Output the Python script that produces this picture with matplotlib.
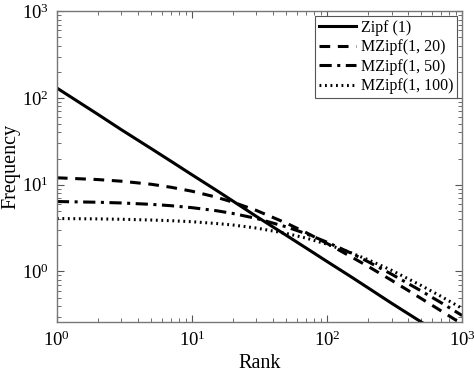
import matplotlib
matplotlib.use("Agg")
import matplotlib.pyplot as plt

plt.rcParams['font.family'] = ['Liberation Serif', 'DejaVu Serif']
plt.rcParams['mathtext.fontset'] = 'custom'
plt.rcParams['mathtext.rm'] = 'Liberation Serif'
plt.rcParams['mathtext.it'] = 'Liberation Serif'

# values
rank = [1, 2, 3, 5, 7, 10, 15, 20, 30, 50, 70, 100, 150, 200, 300, 500, 700, 1000]
zipf_1 = [130, 65, 43, 26, 18.6, 13, 8.7, 6.5, 4.3, 2.6, 1.86, 1.3, 0.87, 0.65, 0.43, 0.26, 0.19, 0.13]
mzipf_20 = [12.0, 11.45, 10.96, 10.1, 9.33, 8.4, 7.2, 6.3, 5.04, 3.6, 2.8, 2.1, 1.48, 1.15, 0.79, 0.485, 0.35, 0.247]
mzipf_50 = [6.39, 6.27, 6.15, 5.93, 5.72, 5.43, 5.02, 4.66, 4.08, 3.26, 2.72, 2.17, 1.63, 1.30, 0.93, 0.593, 0.435, 0.31]
mzipf_100 = [4.07, 4.03, 3.99, 3.91, 3.84, 3.74, 3.57, 3.43, 3.16, 2.74, 2.42, 2.06, 1.64, 1.37, 1.03, 0.685, 0.514, 0.374]

fig = plt.figure(figsize=(4.74, 3.72), dpi=100)
ax = fig.add_axes([0.120, 0.134, 0.855, 0.836])

ax.plot(rank, zipf_1, color='black', lw=2.2, ls='-', label='Zipf (1)')
ax.plot(rank, mzipf_20, color='black', lw=2.2, ls=(0, (3.5, 2.5)), label='MZipf(1, 20)')
ax.plot(rank, mzipf_50, color='black', lw=2.2, ls=(0, (4, 1.8, 1, 1.8)), label='MZipf(1, 50)')
ax.plot(rank, mzipf_100, color='black', lw=2.2, ls=(0, (0.6, 1.2)), label='MZipf(1, 100)')

ax.set_xscale('log')
ax.set_yscale('log')
ax.set_xlim(1, 1000)
ax.set_ylim(0.26, 1000)

ax.set_xlabel('Rank', fontsize=14.5, labelpad=3)
ax.set_ylabel('Frequency', fontsize=14.5, labelpad=1)

ax.tick_params(which='both', direction='in', top=True, right=True, colors='#555555',
               labelcolor='black', labelsize=13.5)
ax.tick_params(which='major', length=5, pad=6)
ax.tick_params(which='minor', length=3)
for s in ax.spines.values():
    s.set_color('#777777')
    s.set_linewidth(1)

leg = ax.legend(loc='upper right', fontsize=11.5, fancybox=False, framealpha=1,
                edgecolor='#555555', handlelength=2.3, borderpad=0.25,
                labelspacing=0.22, handletextpad=0.3, borderaxespad=0.3)
leg.get_frame().set_linewidth(0.8)

fig.savefig('out.png', dpi=100)
